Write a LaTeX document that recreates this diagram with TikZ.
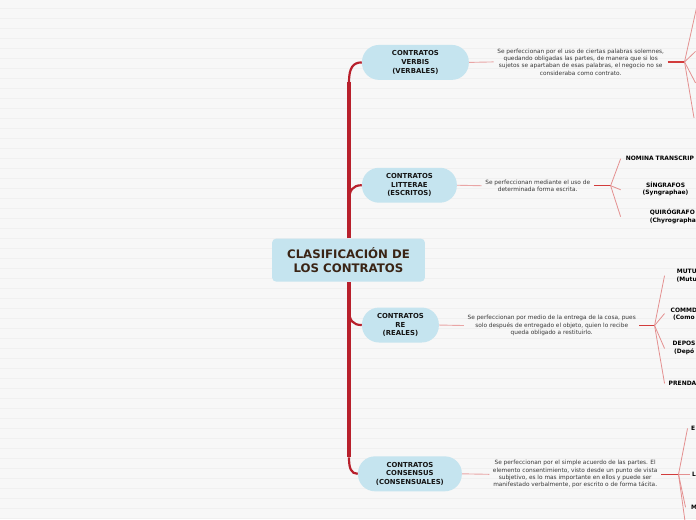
\documentclass[tikz,border=0pt]{standalone}
\usepackage{fontspec}
\setmainfont{DejaVu Sans}
\definecolor{bgc}{HTML}{F7F7F7}
\definecolor{bgline}{HTML}{F0F0F0}
\definecolor{nodeblue}{HTML}{C5E4EF}
\definecolor{trunkred}{HTML}{B8202C}
\definecolor{linkpink}{HTML}{E9A5A5}
\definecolor{stubred}{HTML}{D23C3C}
\definecolor{forkpink}{HTML}{E49090}
\definecolor{desct}{HTML}{383838}
\definecolor{brownt}{HTML}{3A2415}
\definecolor{darkt}{HTML}{151515}
\pgfdeclarelayer{bglayer}
\pgfdeclarelayer{edgelayer}
\pgfsetlayers{bglayer,edgelayer,main}
\begin{document}
\begin{tikzpicture}[x=1bp,y=-1bp,
 central/.style={fill=nodeblue, rounded corners=4bp, minimum width=153bp, minimum height=43bp, align=center, font=\bfseries\fontsize{11.8}{15}\selectfont, text=brownt, inner sep=0pt},
 branch/.style={fill=nodeblue, rounded corners=17bp, minimum height=35bp, align=center, font=\bfseries\fontsize{6.9}{8.7}\selectfont, text=darkt, inner sep=0pt},
 desc/.style={align=center, font=\fontsize{5.85}{7.4}\selectfont, text=desct, inner sep=3.5bp},
 child/.style={font=\bfseries\fontsize{6}{7.6}\selectfont, text=black, inner sep=0pt},
 trunk/.style={draw=trunkred, line width=4.5bp},
 twig/.style={draw=trunkred, line width=2.2bp},
 link/.style={draw=linkpink, line width=0.9bp},
 stub/.style={draw=stubred, line width=1.5bp},
 fork/.style={draw=forkpink, line width=0.8bp}]
% background
\begin{pgfonlayer}{bglayer}
\fill[bgc] (0,0) rectangle (696,520);
\foreach \yy in {9,19,...,519} \draw[bgline, line width=1bp] (0,\yy) -- (696,\yy);
\end{pgfonlayer}
\useasboundingbox (0,0) rectangle (696,520);

% trunk coordinates
\coordinate (t1) at (349,82);
\coordinate (t2) at (349,202);
\coordinate (t3) at (349,310);
\coordinate (t4) at (349,458);

% nodes
\node[central] (c) at (348.5,260.5) {CLASIFICACIÓN DE\\LOS CONTRATOS};
\node[branch, minimum width=107bp] (b1) at (415.5,62.5) {CONTRATOS\\VERBIS\\(VERBALES)};
\node[branch, minimum width=95bp] (b2) at (409.5,185.5) {CONTRATOS\\LITTERAE\\(ESCRITOS)};
\node[branch, minimum width=77bp] (b3) at (400.5,325.5) {CONTRATOS\\RE\\(REALES)};
\node[branch, minimum width=104bp] (b4) at (410,474.5) {CONTRATOS\\CONSENSUS\\(CONSENSUALES)};

% descriptions
\node[desc] (d1) at (581,62) {Se perfeccionan por el uso de ciertas palabras solemnes,\\quedando obligadas las partes, de manera que si los\\sujetos se apartaban de esas palabras, el negocio no se\\consideraba como contrato.};
\node[desc] (d2) at (538,186) {Se perfeccionan mediante el uso de\\determinada forma escrita.};
\node[desc] (d3) at (552,326) {Se perfeccionan por medio de la entrega de la cosa, pues\\solo después de entregado el objeto, quien lo recibe\\queda obligado a restituirlo.};
\node[desc] (d4) at (575.5,475) {Se perfeccionan por el simple acuerdo de las partes. El\\elemento consentimiento, visto desde un punto de vista\\subjetivo, es lo mas importante en ellos y puede ser\\manifestado verbalmente, por escrito o de forma tácita.};

% child labels (cut by the right edge as in the reference)
\node[child, anchor=west] (k21) at (626,158.5) {NOMINA TRANSCRIP};
\node[child, align=center] (k22) at (666,189) {SÍNGRAFOS\\(Syngraphae)};
\node[child, align=left, anchor=west] (k23) at (650,216.5) {QUIRÓGRAFO\\(Chyrographa};
\node[child, align=center, anchor=west] (k31) at (677,276) {MUTU\\(Mutu};
\node[child, align=center, anchor=west] (k32) at (671,314.5) {COMMD\\(Como};
\node[child, align=center, anchor=west] (k33) at (673,348.5) {DEPOS\\(Depó};
\node[child, anchor=west] (k34) at (669,383.5) {PRENDA};
\node[child, anchor=west] (k41) at (691.5,428.5) {E};
\node[child, anchor=west] (k42) at (692.5,475) {L};
\node[child, anchor=west] (k43) at (691.5,508) {M};

% connectors
\begin{pgfonlayer}{edgelayer}
\draw[trunk] (c.north -| t1) -- (t1);
\draw[trunk] (c.south -| t4) -- (t4);
\draw[twig] (t1) .. controls (349,68) and (353,62.5) .. (b1.west);
\draw[twig] (t2) .. controls (349,190) and (353,185.5) .. (b2.west);
\draw[twig] (t3) .. controls (349,321) and (353,325.5) .. (b3.west);
\draw[twig] (t4) .. controls (349,469) and (351,474.5) .. (b4.west);

\draw[link] (b1.east) -- (d1.west);
\draw[link] (b2.east) -- (d2.west);
\draw[link] (b3.east) -- (d3.west);
\draw[link] (b4.east) -- (d4.west);

\coordinate (f1) at (685,62);
\coordinate (f2) at (611,186);
\coordinate (f3) at (655,326);
\coordinate (f4) at (679,475);
\draw[stub] (d1.east) -- (f1);
\draw[stub] (d2.east) -- (f2);
\draw[stub] (d3.east) -- (f3);
\draw[stub] (d4.east) -- (f4);

\coordinate (e11) at (697,8);
\coordinate (e12) at (696,51.5);
\coordinate (e13) at (696,83);
\coordinate (e14) at (694.5,118);
\coordinate (e21) at (621,159);
\coordinate (e22) at (621,190);
\coordinate (e23) at (621,217);
\coordinate (e31) at (665,276);
\coordinate (e32) at (665,314);
\coordinate (e33) at (665,349);
\coordinate (e34) at (665,384);
\coordinate (e41) at (688,429);
\coordinate (e42) at (690,475);
\coordinate (e43) at (686,508);
\coordinate (e44) at (685.5,522);
\foreach \f/\e in {1/11,1/12,1/13,1/14,2/21,2/22,2/23,3/31,3/32,3/33,3/34,4/41,4/42,4/43,4/44}
  \draw[fork] (f\f) -- (e\e);
\end{pgfonlayer}
\end{tikzpicture}
\end{document}
